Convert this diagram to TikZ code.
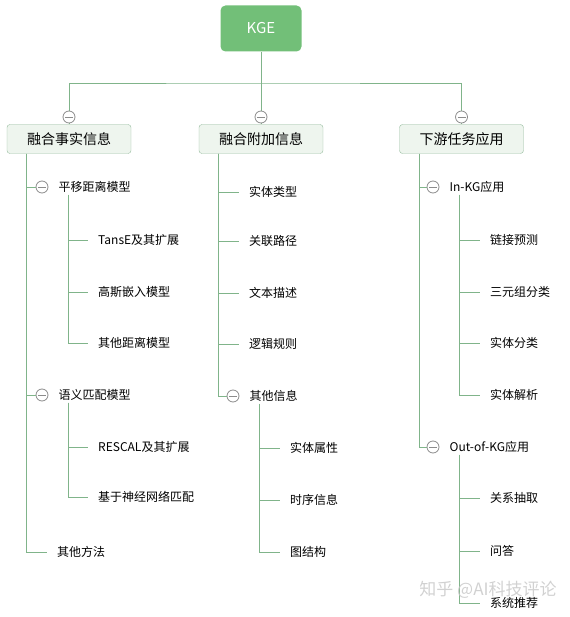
\documentclass[tikz,border=0pt]{standalone}
\usepackage{fontspec}
\setmainfont{Noto Sans CJK SC}
\usepackage{tikz}
\usetikzlibrary{positioning}
\definecolor{kgegreen}{RGB}{114,191,120}
\definecolor{boxfill}{RGB}{238,245,238}
\definecolor{boxline}{RGB}{150,188,158}
\definecolor{linegreen}{RGB}{128,180,138}
\definecolor{toggray}{RGB}{140,140,140}
\begin{document}
\begin{tikzpicture}[x=1pt, y=-1pt,
   root/.style={rounded corners=5pt, fill=kgegreen, text=white, minimum width=81pt, minimum height=46pt, font=\fontsize{15}{18}\selectfont},
   cat/.style={draw=boxline, fill=boxfill, rounded corners=3pt, minimum width=124pt, minimum height=29pt, font=\fontsize{14}{16}\selectfont},
   tog/.style={circle, draw=toggray, fill=white, line width=0.8pt, minimum size=12pt, inner sep=0pt,
      path picture={\draw[toggray, line width=0.8pt] ([xshift=-4pt]path picture bounding box.center) -- ++(8pt,0);}},
   item/.style={anchor=west, inner xsep=10pt, inner ysep=2pt, font=\fontsize{12}{14}\selectfont},
   link/.style={draw=linegreen, line width=0.8pt}]
   \useasboundingbox (0,0) rectangle (569,617);

   \node[root] (kge) at (261,28.5) {KGE};
   \coordinate (bus) at (261,83);

   \node[cat] (b1) at (69,139) {融合事实信息};
   \node[cat] (b2) at (261,139) {融合附加信息};
   \node[cat] (b3) at (461.5,139) {下游任务应用};

   \draw[link] (kge) -- (b2);
   \draw[link] (b1) |- (bus) -| (b3);
   \node[tog] (t1) at (69,117) {};
   \node[tog] (t2) at (261,117) {};
   \node[tog] (t3) at (461.5,117) {};

   \node[tog] (m1) at (42,187) {};
   \node[item, right=0pt of m1] (g1) {平移距离模型};
   \node[item] (l11) at (88,240) {TansE及其扩展};
   \node[item] (l12) at (88,292) {高斯嵌入模型};
   \node[item] (l13) at (88,343) {其他距离模型};
   \node[tog] (m2) at (42,395) {};
   \node[item, right=0pt of m2] (g2) {语义匹配模型};
   \node[item] (l21) at (88,447) {RESCAL及其扩展};
   \node[item] (l22) at (88,497) {基于神经网络匹配};
   \node[item] (g3) at (47,552) {其他方法};

   \draw[link] ([xshift=20pt]b1.south west) |- (m1.west);
   \draw[link] ([xshift=20pt]b1.south west) |- (m2.west);
   \draw[link] ([xshift=20pt]b1.south west) |- (g3.west);
   \draw[link] ([xshift=20pt]g1.south west) |- (l11.west);
   \draw[link] ([xshift=20pt]g1.south west) |- (l12.west);
   \draw[link] ([xshift=20pt]g1.south west) |- (l13.west);
   \draw[link] ([xshift=20pt]g2.south west) |- (l21.west);
   \draw[link] ([xshift=20pt]g2.south west) |- (l22.west);

   \node[item] (a1) at (239,192) {实体类型};
   \node[item] (a2) at (239,241) {关联路径};
   \node[item] (a3) at (239,293) {文本描述};
   \node[item] (a4) at (239,344) {逻辑规则};
   \node[tog] (m3) at (233,396) {};
   \node[item, right=0pt of m3] (a5) {其他信息};
   \node[item] (a51) at (280,448) {实体属性};
   \node[item] (a52) at (280,500) {时序信息};
   \node[item] (a53) at (280,552) {图结构};

   \draw[link] ([xshift=20pt]b2.south west) |- (a1.west);
   \draw[link] ([xshift=20pt]b2.south west) |- (a2.west);
   \draw[link] ([xshift=20pt]b2.south west) |- (a3.west);
   \draw[link] ([xshift=20pt]b2.south west) |- (a4.west);
   \draw[link] ([xshift=20pt]b2.south west) |- (m3.west);
   \draw[link] ([xshift=20pt]a5.south west) |- (a51.west);
   \draw[link] ([xshift=20pt]a5.south west) |- (a52.west);
   \draw[link] ([xshift=20pt]a5.south west) |- (a53.west);

   \node[tog] (m4) at (433,187) {};
   \node[item, right=0pt of m4] (d1) {In-KG应用};
   \node[item] (d11) at (480,240) {链接预测};
   \node[item] (d12) at (480,292) {三元组分类};
   \node[item] (d13) at (480,343) {实体分类};
   \node[item] (d14) at (480,395) {实体解析};
   \node[tog] (m5) at (433,447) {};
   \node[item, right=0pt of m5] (d2) {Out-of-KG应用};
   \node[item] (d21) at (480,498) {关系抽取};
   \node[item] (d22) at (480,551) {问答};
   \node[item] (d23) at (480,603) {系统推荐};

   \draw[link] ([xshift=20pt]b3.south west) |- (m4.west);
   \draw[link] ([xshift=20pt]b3.south west) |- (m5.west);
   \draw[link] ([xshift=20pt]d1.south west) |- (d11.west);
   \draw[link] ([xshift=20pt]d1.south west) |- (d12.west);
   \draw[link] ([xshift=20pt]d1.south west) |- (d13.west);
   \draw[link] ([xshift=20pt]d1.south west) |- (d14.west);
   \draw[link] ([xshift=20pt]d2.south west) |- (d21.west);
   \draw[link] ([xshift=20pt]d2.south west) |- (d22.west);
   \draw[link] ([xshift=20pt]d2.south west) |- (d23.west);

   \node[text=gray!45, opacity=0.8, font=\fontsize{17}{20}\selectfont] (wm) at (488,590) {知乎 @AI科技评论};
\end{tikzpicture}
\end{document}
